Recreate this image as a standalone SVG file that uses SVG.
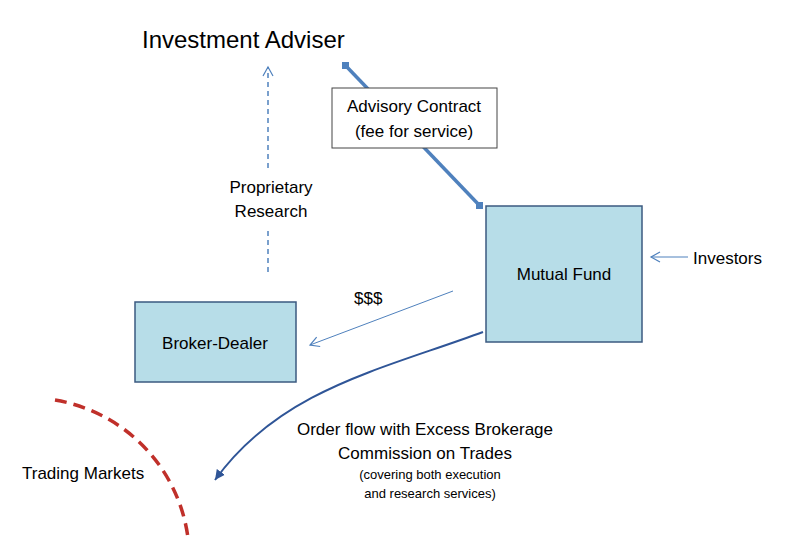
<svg xmlns="http://www.w3.org/2000/svg" width="800" height="538" viewBox="0 0 800 538">
<style>
text{font-family:"Liberation Sans",Arial,sans-serif;fill:#000}
.box{fill:#b7dde8;stroke:#3b5a80;stroke-width:1.5}
.ln{fill:none;stroke:#4f81bd}
</style>
<defs>
<marker id="op" markerWidth="12" markerHeight="12" refX="10" refY="6" orient="auto" markerUnits="userSpaceOnUse"><path d="M1,1 L10,6 L1,11" fill="none" stroke="#4f81bd" stroke-width="1.2"/></marker>
<marker id="fl" markerWidth="12" markerHeight="12" refX="10" refY="6" orient="auto" markerUnits="userSpaceOnUse"><path d="M0,1 L10,6 L0,11 z" fill="#2f5597"/></marker>
<marker id="sq" markerWidth="8" markerHeight="8" refX="4" refY="4" markerUnits="userSpaceOnUse"><rect width="7" height="7" fill="#4f81bd"/></marker>
</defs>
<rect width="800" height="538" fill="#fff"/>
<g id="connectors">
<line class="ln" x1="268" y1="168" x2="268" y2="67" stroke-width="1.5" stroke-dasharray="5,4" marker-end="url(#op)"/>
<line class="ln" x1="268" y1="272" x2="268" y2="228" stroke-width="1.5" stroke-dasharray="5,4"/>
<line class="ln" x1="346" y1="66" x2="480" y2="206" stroke-width="3.5" marker-start="url(#sq)" marker-end="url(#sq)"/>
<line class="ln" x1="688" y1="257" x2="651" y2="257" stroke-width="1" marker-end="url(#op)"/>
<line class="ln" x1="453" y1="291" x2="310" y2="345" stroke-width="1" marker-end="url(#op)"/>
<path d="M483,332 C380,370 280,390 215,480" fill="none" stroke="#2f5597" stroke-width="2" marker-end="url(#fl)"/>
</g>
<g id="adviser"><text x="142" y="48" font-size="24">Investment Adviser</text></g>
<g id="research"><text x="271" y="193" font-size="17" text-anchor="middle">Proprietary</text><text x="271" y="217" font-size="17" text-anchor="middle">Research</text></g>
<g id="contract"><rect x="332" y="88" width="165" height="60" fill="#fff" stroke="#444" stroke-width="1"/>
<text x="414" y="112" font-size="17" text-anchor="middle">Advisory Contract</text><text x="414" y="137" font-size="17" text-anchor="middle">(fee for service)</text></g>
<g id="fund"><rect class="box" x="486" y="206" width="156" height="136"/><text x="564" y="280" font-size="17" text-anchor="middle">Mutual Fund</text></g>
<g id="investors"><text x="693" y="264" font-size="17">Investors</text></g>
<g id="dollars"><text x="354" y="304" font-size="17">$$$</text></g>
<g id="broker"><rect class="box" x="135" y="302" width="161" height="80"/><text x="215" y="349" font-size="17" text-anchor="middle">Broker-Dealer</text></g>
<g id="markets"><path d="M55,400 A161,161 0 0 1 188,538" fill="none" stroke="#c0302a" stroke-width="3.5" stroke-dasharray="12,7"/><text x="22" y="479" font-size="17">Trading Markets</text></g>
<g id="orderflow"><text x="425" y="435" font-size="17" text-anchor="middle">Order flow with Excess Brokerage</text>
<text x="425" y="459" font-size="17" text-anchor="middle">Commission on Trades</text>
<text x="430" y="479" font-size="13" text-anchor="middle">(covering both execution</text>
<text x="430" y="498" font-size="13" text-anchor="middle">and research services)</text></g>
</svg>
